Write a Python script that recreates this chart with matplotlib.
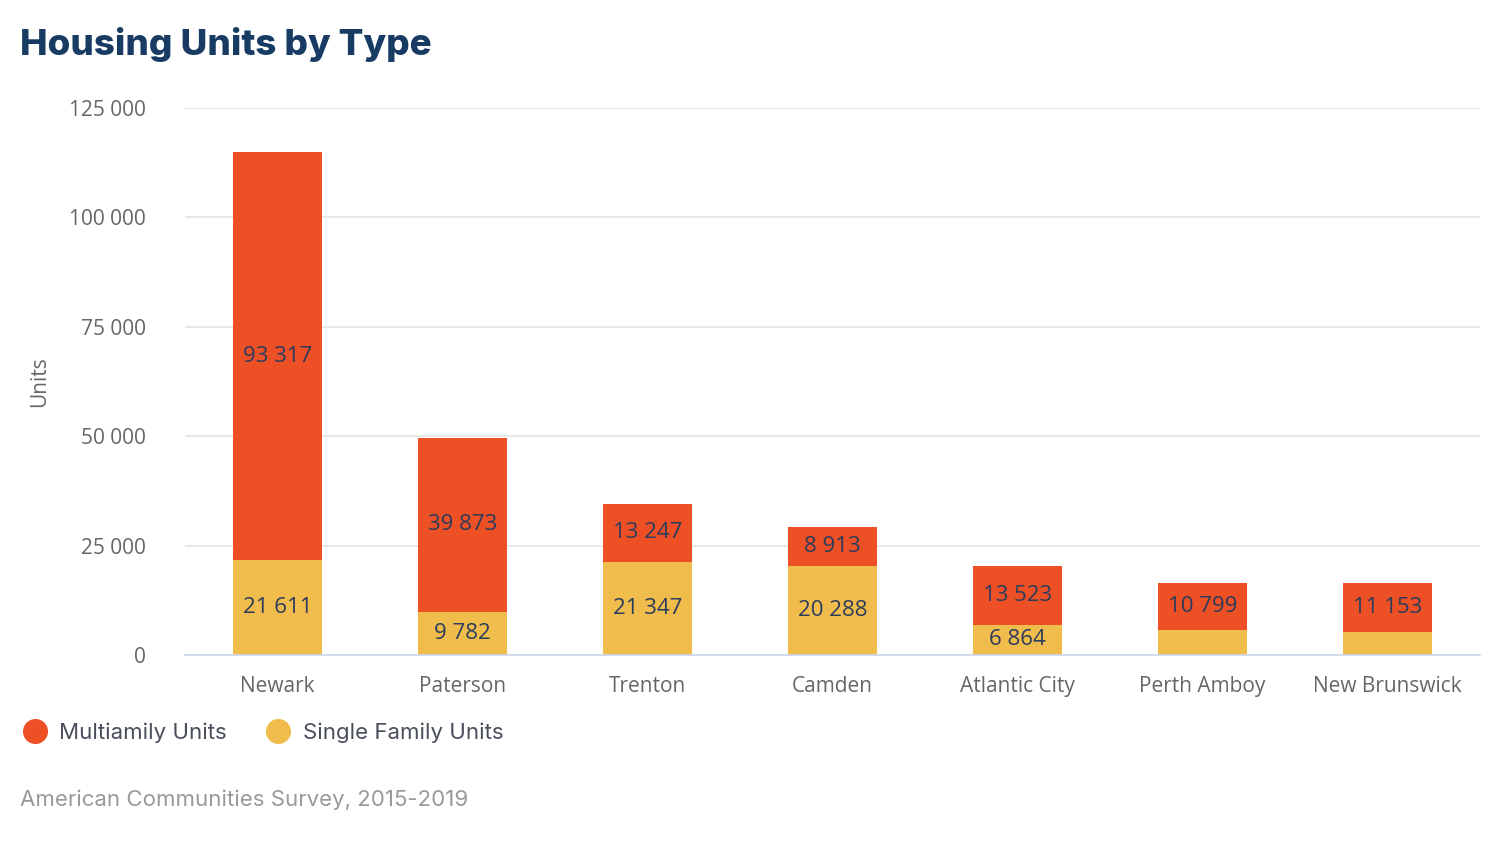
import matplotlib
matplotlib.use("Agg")
import matplotlib.pyplot as plt
from matplotlib.lines import Line2D

cities = ["Newark", "Paterson", "Trenton", "Camden", "Atlantic City", "Perth Amboy", "New Brunswick"]
multifamily = [93317, 39873, 13247, 8913, 13523, 10799, 11153]
single_family = [21611, 9782, 21347, 20288, 6864, 5700, 5300]
show_single_label = [True, True, True, True, True, False, False]
yticks = [0, 25000, 50000, 75000, 100000, 125000]

RED = "#EE5026"
YEL = "#F0BC4B"
NAVY = "#173B63"
LABEL = "#2B3B5C"
TICK = "#666666"

fig = plt.figure(figsize=(15, 8.44), dpi=100)
W, H = 1500, 844
ax = fig.add_axes([185 / W, 1 - 655 / H, (1480 - 185) / W, (655 - 108) / H])

x = list(range(len(cities)))
ax.bar(x, single_family, width=0.48, color=YEL, zorder=3)
ax.bar(x, multifamily, width=0.48, bottom=single_family, color=RED, zorder=3)

for i in x:
    ax.text(i, single_family[i] + multifamily[i] / 2, f"{multifamily[i]:,}".replace(",", " "),
            ha="center", va="center", fontsize=16, color=LABEL, family="Open Sans", zorder=4)
    if show_single_label[i]:
        ax.text(i, single_family[i] / 2, f"{single_family[i]:,}".replace(",", " "),
                ha="center", va="center", fontsize=16, color=LABEL, family="Open Sans", zorder=4)

ax.set_xlim(-0.5, len(cities) - 0.5)
ax.set_ylim(0, 125000)
ax.set_yticks(yticks)
ax.set_yticklabels([f"{v:,}".replace(",", " ") for v in yticks], fontsize=15, color=TICK, family="Open Sans")
ax.set_xticks(x)
ax.set_xticklabels(cities, fontsize=15, color=TICK, family="Open Sans")
ax.tick_params(axis="y", length=0, pad=28)
ax.tick_params(axis="x", length=0, pad=15)
ax.grid(axis="y", color="#E3E3E3", linewidth=1.2, zorder=0)
for s in ["top", "right", "left"]:
    ax.spines[s].set_visible(False)
ax.spines["bottom"].set_color("#CCD6EB")
ax.spines["bottom"].set_linewidth(1.2)
ax.spines["bottom"].set_zorder(5)

fig.text(40 / W, 1 - 382 / H, "Units", rotation=90, ha="center", va="center",
         fontsize=15, color=TICK, family="Open Sans")

fig.text(20 / W, 1 - 45 / H, "Housing Units by Type", ha="left", va="center",
         fontsize=26.5, fontweight=800, color=NAVY, family="Inter")

handles = [Line2D([], [], marker="o", linestyle="", markersize=17, color=RED, label="Multiamily Units"),
           Line2D([], [], marker="o", linestyle="", markersize=17, color=YEL, label="Single Family Units")]
leg = fig.legend(handles=handles, loc="center left", bbox_to_anchor=(17 / W, 1 - 733 / H),
                 ncol=2, frameon=False, handletextpad=0.3, columnspacing=1.5, handlelength=1.6,
                 borderpad=0, borderaxespad=0,
                 prop={"family": "Inter", "size": 16})
for t in leg.get_texts():
    t.set_color("#4A4F5C")

fig.text(20 / W, 1 - 800 / H, "American Communities Survey, 2015-2019", ha="left", va="center",
         fontsize=16, color="#999999", family="Inter")

fig.savefig("out.png", dpi=100, facecolor="white")
